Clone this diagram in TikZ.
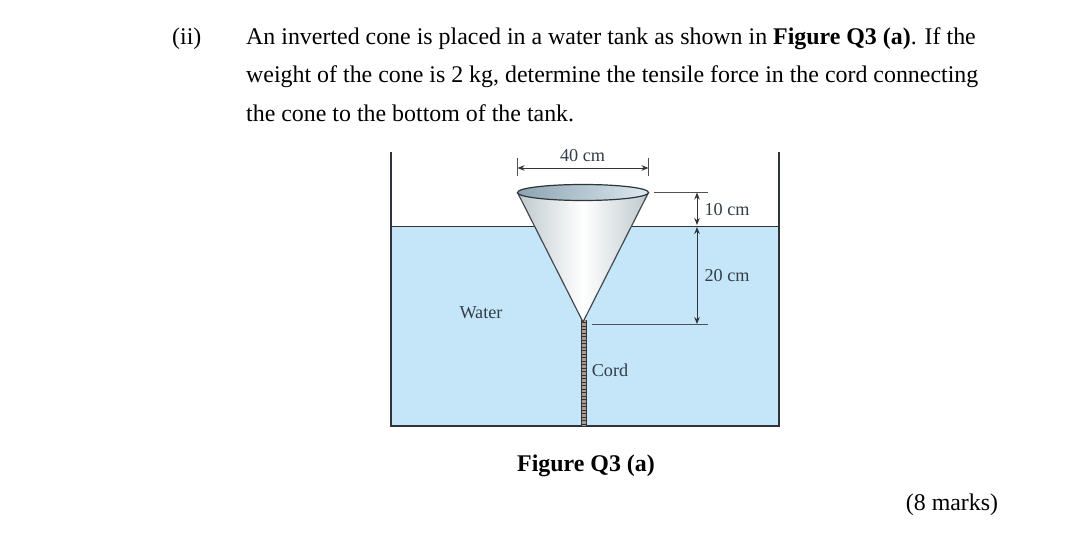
\documentclass[tikz,border=0pt]{standalone}
\usepackage{fontspec}
\setmainfont{Liberation Serif}
\usetikzlibrary{positioning,arrows.meta}
\definecolor{watercol}{HTML}{C5E6F9}
\definecolor{inkcol}{HTML}{2F3438}
\definecolor{labelcol}{HTML}{333E48}
\definecolor{conecol}{HTML}{BEC8CC}
\definecolor{rimleft}{HTML}{8CA4B1}
\definecolor{rimright}{HTML}{DCE9F0}
\definecolor{cordcol}{HTML}{B09A90}
\tikzset{%
  bodytext/.style = {inner sep=0pt,anchor=base west,font=\fontsize{23.9}{26}\selectfont},
  figlabel/.style = {inner sep=0pt,text=labelcol,font=\fontsize{18.2}{20}\selectfont},
  wall/.style = {draw=inkcol,line width=1.8pt},
  dimarrow/.style = {{Stealth[length=7pt,width=5.5pt]}-{Stealth[length=7pt,width=5.5pt]},draw=inkcol,line width=0.9pt},
  dimline/.style = {draw=inkcol!85,line width=0.9pt}
}

\begin{document}
\begin{tikzpicture}[x=1pt,y=-1pt]
   \useasboundingbox (0,0) rectangle (1080,537);
   \fill[white] (0,0) rectangle (1080,537);

   % question text
   \node[bodytext] (item) at (172,44.5) {(ii)};
   \node[bodytext] (line1) at (246,44.5) {An inverted cone is placed in a water tank as shown in \textbf{Figure Q3 (a)}. If the};
   \node[bodytext] (line2) [below=38.5pt of line1.base west,anchor=base west] {weight of the cone is 2 kg, determine the tensile force in the cord connecting};
   \node[bodytext] (line3) [below=38.5pt of line2.base west,anchor=base west] {the cone to the bottom of the tank.};

   % tank
   \coordinate (tl) at (391,152);
   \coordinate (tr) at (779,152);
   \coordinate (wl) at (391,226);
   \coordinate (wr) at (779,226);
   \coordinate (bl) at (391,426);
   \coordinate (br) at (779,426);
   \fill[watercol] (wl) rectangle (br);
   \draw[inkcol,line width=0.9pt] (wl) -- (wr);
   \draw[wall] (tl) -- (bl) -- (br) -- (tr);

   % cord
   \coordinate (apex) at (583,322);
   \coordinate (floor) at (584,426);
   \draw[inkcol,line width=6.5pt] (584,320) -- (floor);
   \draw[cordcol,line width=4.5pt,dash pattern=on 2.2pt off 1.3pt] (584,320) -- (floor);

   % cone
   \coordinate (rl) at (517.5,192.5);
   \coordinate (rr) at (648.5,192.5);
   \coordinate (rim) at (583,192.5);
   \shade[left color=conecol,right color=conecol,middle color=white,shading angle=90]
      (rl) -- (apex) -- (rr) -- cycle;
   \draw[inkcol!90,line width=1.2pt] (rl) -- (apex) -- (rr);
   \shade[left color=rimleft,right color=rimright,draw=inkcol,line width=1.2pt]
      (rim) ellipse [x radius=65.5pt,y radius=8pt];

   % dimensions
   \coordinate (d1a) at (517.5,158);
   \coordinate (d1b) at (517.5,176);
   \coordinate (d2a) at (648.5,158);
   \coordinate (d2b) at (648.5,176);
   \draw[dimline] (d1a) -- (d1b);
   \draw[dimline] (d2a) -- (d2b);
   \draw[dimarrow] (517.5,168) -- (648.5,168);
   \coordinate (e1a) at (654,192.5);
   \coordinate (e1b) at (708,192.5);
   \coordinate (e2a) at (592,324);
   \coordinate (e2b) at (708,324);
   \draw[dimline] (e1a) -- (e1b);
   \draw[dimline] (e2a) -- (e2b);
   \draw[dimarrow] (697,192.5) -- (697,225);
   \draw[dimarrow] (697,227) -- (697,324);

   % labels
   \node[figlabel] (width) at (582.5,156) {40 cm};
   \node[figlabel] (upper) at (727,210) {10 cm};
   \node[figlabel] (lower) at (727,276) {20 cm};
   \node[figlabel] (water) at (481,312.5) {Water};
   \node[figlabel] (cord) at (610,370.5) {Cord};
   \node[inner sep=0pt,font=\bfseries\fontsize{23.9}{26}\selectfont] (caption) at (586,465.5) {Figure Q3 (a)};
   \node[inner sep=0pt,font=\fontsize{23.9}{26}\selectfont] (marks) at (952,504.5) {(8 marks)};
\end{tikzpicture}
\end{document}
